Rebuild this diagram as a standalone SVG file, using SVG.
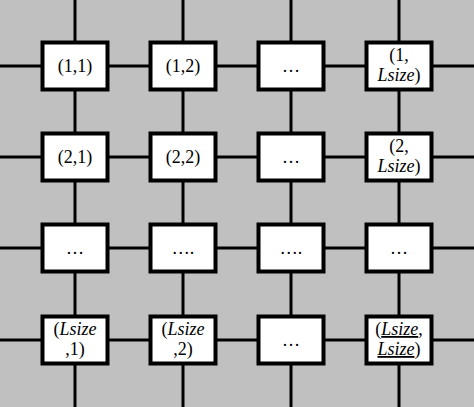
<svg xmlns="http://www.w3.org/2000/svg" width="474" height="407" viewBox="0 0 474 407">
<style>
.bg{fill:#c0c0c0}
.ln{stroke:#000;stroke-width:3;fill:none}
.bx{fill:#fff;stroke:#000;stroke-width:4}
text{font-family:"Liberation Serif","Times New Roman",serif;font-size:18px;fill:#000;text-anchor:middle}
.i{font-style:italic}
.u{text-decoration:underline}
</style>
<rect class="bg" x="0" y="0" width="474" height="407"/>
<g id="connectors">
<path class="ln" d="M0 66H474M0 157H474M0 248H474M0 340H474M75 0V407M183 0V407M291 0V407M399 0V407"/>
</g>
<g id="n11"><rect class="bx" x="42.5" y="42.5" width="65" height="47"/><text x="75" y="72">(1,1)</text></g>
<g id="n12"><rect class="bx" x="150.5" y="42.5" width="65" height="47"/><text x="183" y="72">(1,2)</text></g>
<g id="n13"><rect class="bx" x="258.5" y="42.5" width="65" height="47"/><text x="291" y="72">…</text></g>
<g id="n14"><rect class="bx" x="366.5" y="42.5" width="65" height="47"/><text x="399" y="61">(1,</text><text x="399" y="81"><tspan class="i">Lsize</tspan>)</text></g>
<g id="n21"><rect class="bx" x="42.5" y="133.5" width="65" height="47"/><text x="75" y="163">(2,1)</text></g>
<g id="n22"><rect class="bx" x="150.5" y="133.5" width="65" height="47"/><text x="183" y="163">(2,2)</text></g>
<g id="n23"><rect class="bx" x="258.5" y="133.5" width="65" height="47"/><text x="291" y="163">…</text></g>
<g id="n24"><rect class="bx" x="366.5" y="133.5" width="65" height="47"/><text x="399" y="152">(2,</text><text x="399" y="172"><tspan class="i">Lsize</tspan>)</text></g>
<g id="n31"><rect class="bx" x="42.5" y="224.5" width="65" height="47"/><text x="75" y="254">…</text></g>
<g id="n32"><rect class="bx" x="150.5" y="224.5" width="65" height="47"/><text x="183" y="254">….</text></g>
<g id="n33"><rect class="bx" x="258.5" y="224.5" width="65" height="47"/><text x="291" y="254">….</text></g>
<g id="n34"><rect class="bx" x="366.5" y="224.5" width="65" height="47"/><text x="399" y="254">…</text></g>
<g id="n41"><rect class="bx" x="42.5" y="316.5" width="65" height="47"/><text x="75" y="335">(<tspan class="i">Lsize</tspan></text><text x="75" y="355">,1)</text></g>
<g id="n42"><rect class="bx" x="150.5" y="316.5" width="65" height="47"/><text x="183" y="335">(<tspan class="i">Lsize</tspan></text><text x="183" y="355">,2)</text></g>
<g id="n43"><rect class="bx" x="258.5" y="316.5" width="65" height="47"/><text x="291" y="346">…</text></g>
<g id="n44"><rect class="bx" x="366.5" y="316.5" width="65" height="47"/><text x="399" y="335">(<tspan class="i u">Lsize</tspan>,</text><text x="399" y="355"><tspan class="i u">Lsize</tspan>)</text></g>
</svg>
